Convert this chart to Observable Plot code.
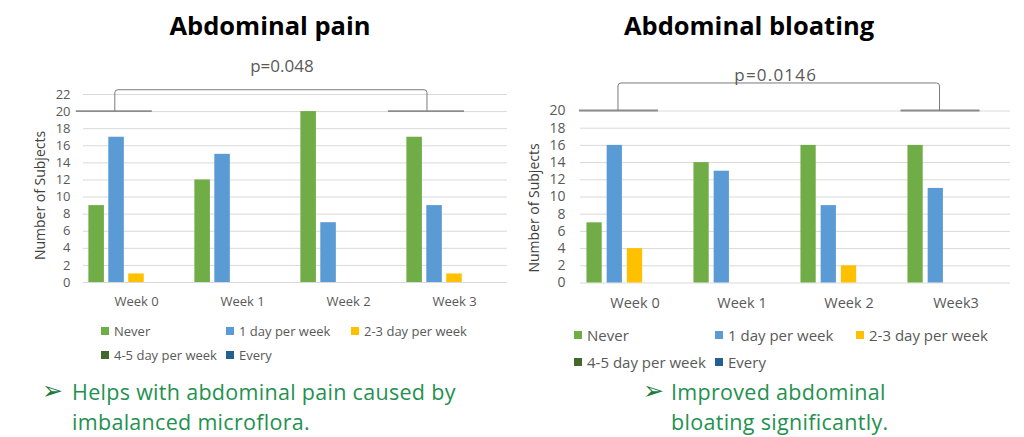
<!DOCTYPE html>
<html>
<head>
<meta charset="utf-8">
<script src="https://cdn.jsdelivr.net/npm/d3@7"></script>
<script src="https://cdn.jsdelivr.net/npm/@observablehq/plot@0.6"></script>
<style>
  body { margin: 0; background: #fff; font-family: "Open Sans", sans-serif; }
  #page { position: relative; width: 1024px; height: 437px; overflow: hidden; background: #fff; }
  .chart { position: absolute; top: 0; }
  .chart svg { overflow: visible; }
  .title { position: absolute; font-weight: 700; font-size: 25.5px; line-height: 26px; color: #000; white-space: nowrap; transform: translateX(-50%); }
  .legend-row { position: absolute; display: flex; white-space: nowrap; color: #595959; }
  .legend-item { display: flex; align-items: center; }
  .swatch { display: inline-block; width: 8px; height: 8px; margin-right: 5px; }
  .note { position: absolute; color: #23914F; white-space: nowrap; letter-spacing: 0.3px; }
  .note .arrow { position: absolute; font-family: "DejaVu Sans", sans-serif; color: #1C7A3E; letter-spacing: 0; }
</style>
</head>
<body>
<div id="page"></div>
<script>
// Response frequency categories and their colours
const frequencies = ["Never", "1 day per week", "2-3 day per week", "4-5 day per week", "Every"];
const freqColors = ["#70AD47", "#5B9BD5", "#FFC000", "#43682B", "#255E91"];

// Abdominal pain: number of subjects per week
const painWeeks = ["Week 0", "Week 1", "Week 2", "Week 3"];
const painNever = [9, 12, 20, 17];
const painOneDay = [17, 15, 7, 9];
const painTwoThree = [1, 0, 0, 1];
const painFourFive = [0, 0, 0, 0];
const painEvery = [0, 0, 0, 0];
const painTicks = [0, 2, 4, 6, 8, 10, 12, 14, 16, 18, 20, 22];

// Abdominal bloating: number of subjects per week
const bloatWeeks = ["Week 0", "Week 1", "Week 2", "Week3"];
const bloatNever = [7, 14, 16, 16];
const bloatOneDay = [16, 13, 9, 11];
const bloatTwoThree = [4, 0, 2, 0];
const bloatFourFive = [0, 0, 0, 0];
const bloatEvery = [0, 0, 0, 0];
const bloatTicks = [0, 2, 4, 6, 8, 10, 12, 14, 16, 18, 20];

const yTitle = "Number of Subjects";
const painTitle = "Abdominal pain";
const bloatTitle = "Abdominal bloating";
const painP = "p=0.048";
const bloatP = "p=0.0146";
const painNote = ["Helps with abdominal pain caused by", "imbalanced microflora."];
const bloatNote = ["Improved abdominal", "bloating significantly."];

// Significance bracket between the first and last week
function bracketMark(b) {
  return (index, scales) => {
    const x = scales.x, y = scales.y;
    const bw = b.bandwidth;
    const xl = x(b.from) + b.leftAt * bw;
    const xr = x(b.to) + b.rightAt * bw;
    const yb = y(b.base), yt = y(b.top), r = 3;
    const g = d3.create("svg:g");
    g.append("line").attr("x1", xl - b.baseLeft).attr("x2", xl + b.baseRight)
      .attr("y1", yb).attr("y2", yb).attr("stroke", "#8C8C8C").attr("stroke-width", 1.8);
    g.append("line").attr("x1", xr - b.baseLeft).attr("x2", xr + b.baseRight)
      .attr("y1", yb).attr("y2", yb).attr("stroke", "#8C8C8C").attr("stroke-width", 1.8);
    g.append("path")
      .attr("d", `M${xl},${yb}V${yt + r}Q${xl},${yt} ${xl + r},${yt}H${xr - r}Q${xr},${yt} ${xr},${yt + r}V${yb}`)
      .attr("fill", "none").attr("stroke", "#7A7A7A").attr("stroke-width", 1);
    g.append("text")
      .attr("x", (xl + xr) / 2 + b.labelDx).attr("y", yt - b.labelLift)
      .attr("text-anchor", "middle")
      .attr("font-size", b.labelSize).attr("letter-spacing", b.labelSpacing)
      .attr("fill", "#595959").text(b.label);
    return g.node();
  };
}

function groupedBars(cfg) {
  const rows = cfg.weeks.flatMap((w, wi) =>
    frequencies.map((f, fi) => ({week: w, freq: f, value: cfg.series[fi][wi]})));
  const bw = (cfg.width - cfg.marginLeft - cfg.marginRight) / cfg.weeks.length;
  const pitch = bw * 0.188, barW = pitch * 0.78;
  const lead = (bw - (4 * pitch + barW)) / 2;
  const bars = frequencies.map((f, fi) =>
    Plot.barY(rows.filter(d => d.freq === f), {
      x: "week", y: "value", fill: freqColors[fi],
      insetLeft: lead + fi * pitch,
      insetRight: bw - lead - fi * pitch - barW
    }));
  return Plot.plot({
    width: cfg.width, height: cfg.height,
    marginTop: cfg.marginTop, marginBottom: cfg.marginBottom,
    marginLeft: cfg.marginLeft, marginRight: cfg.marginRight,
    style: {fontFamily: "Open Sans, sans-serif", background: "transparent", overflow: "visible"},
    x: {type: "band", domain: cfg.weeks, padding: 0},
    y: {domain: [0, cfg.yMax]},
    marks: [
      Plot.gridY(cfg.ticks, {stroke: "#D9D9D9", strokeOpacity: 1}),
      Plot.axisY(cfg.ticks, {tickSize: 0, tickPadding: cfg.yPad, label: null, fontSize: cfg.tickSize, fill: "#595959"}),
      Plot.axisX({tickSize: 0, tickPadding: cfg.xPad, label: null, fontSize: cfg.weekSize, fill: "#595959"}),
      ...bars,
      Plot.text([yTitle], {frameAnchor: "left", textAnchor: "middle", rotate: -90, dx: cfg.titleDx, dy: cfg.titleDy, fontSize: 14, fill: "#404040"}),
      bracketMark({...cfg.bracket, bandwidth: bw})
    ]
  });
}

function addLegend(panel, cfg) {
  const rows = [frequencies.slice(0, 3), frequencies.slice(3)];
  rows.forEach((names, ri) => {
    const row = document.createElement("div");
    row.className = "legend-row";
    row.style.left = cfg.left + "px";
    row.style.top = (cfg.rowTops[ri]) + "px";
    row.style.fontSize = cfg.fontSize + "px";
    row.style.lineHeight = "18px";
    names.forEach(name => {
      const item = document.createElement("div");
      item.className = "legend-item";
      item.style.width = cfg.pitch + "px";
      const sw = document.createElement("span");
      sw.className = "swatch";
      sw.style.background = freqColors[frequencies.indexOf(name)];
      item.appendChild(sw);
      item.appendChild(document.createTextNode(name));
      row.appendChild(item);
    });
    panel.appendChild(row);
  });
}

function addNote(panel, cfg) {
  const note = document.createElement("div");
  note.className = "note";
  note.style.left = cfg.left + "px";
  note.style.top = cfg.top + "px";
  note.style.fontSize = cfg.fontSize + "px";
  note.style.lineHeight = cfg.lineHeight + "px";
  const arrow = document.createElement("span");
  arrow.className = "arrow";
  arrow.textContent = "\u27A2";
  arrow.style.left = (-cfg.arrowGap) + "px";
  arrow.style.top = "-1px";
  arrow.style.fontSize = cfg.arrowSize + "px";
  note.appendChild(arrow);
  cfg.lines.forEach(t => {
    const line = document.createElement("div");
    line.textContent = t;
    note.appendChild(line);
  });
  panel.appendChild(note);
}

function addTitle(panel, text, centerX, top) {
  const t = document.createElement("div");
  t.className = "title";
  t.style.left = centerX + "px";
  t.style.top = top + "px";
  t.textContent = text;
  panel.appendChild(t);
}

const page = document.getElementById("page");

// Left panel: abdominal pain
const left = document.createElement("div");
left.className = "chart";
left.style.left = "0px";
left.style.width = "512px";
left.style.height = "437px";
page.appendChild(left);
left.appendChild(groupedBars({
  weeks: painWeeks,
  series: [painNever, painOneDay, painTwoThree, painFourFive, painEvery],
  ticks: painTicks, yMax: 22,
  width: 512, height: 320, marginTop: 94, marginBottom: 38, marginLeft: 83, marginRight: 5,
  yPad: 13, xPad: 14, tickSize: 13, weekSize: 13, titleDx: -43, titleDy: 7,
  bracket: {from: "Week 0", to: "Week 3", base: 20, top: 22.5, leftAt: 0.3, rightAt: 0.245,
            baseLeft: 39, baseRight: 37, label: painP, labelDx: 11, labelLift: 18,
            labelSize: 17, labelSpacing: 0}
}));
addTitle(left, painTitle, 270, 12);
addLegend(left, {left: 101, rowTops: [322, 346], pitch: 125, fontSize: 13});
addNote(left, {left: 72, top: 377, fontSize: 21.5, lineHeight: 29.5, lines: painNote, arrowGap: 30, arrowSize: 25});

// Right panel: abdominal bloating
const right = document.createElement("div");
right.className = "chart";
right.style.left = "512px";
right.style.width = "512px";
right.style.height = "437px";
page.appendChild(right);
right.appendChild(groupedBars({
  weeks: bloatWeeks,
  series: [bloatNever, bloatOneDay, bloatTwoThree, bloatFourFive, bloatEvery],
  ticks: bloatTicks, yMax: 20,
  width: 512, height: 320, marginTop: 110.5, marginBottom: 37.5, marginLeft: 68, marginRight: 14,
  yPad: 15, xPad: 15, tickSize: 14, weekSize: 14.5, titleDx: -46, titleDy: 11,
  bracket: {from: "Week 0", to: "Week3", base: 20, top: 23.2, leftAt: 0.344, rightAt: 0.349,
            baseLeft: 39, baseRight: 40, label: bloatP, labelDx: -3, labelLift: 2,
            labelSize: 17, labelSpacing: 1.2}
}));
addTitle(right, bloatTitle, 237, 12);
addLegend(right, {left: 62, rowTops: [326, 353], pitch: 141, fontSize: 15});
addNote(right, {left: 159, top: 377, fontSize: 21.5, lineHeight: 29.5, lines: bloatNote, arrowGap: 28, arrowSize: 25});
</script>
</body>
</html>
